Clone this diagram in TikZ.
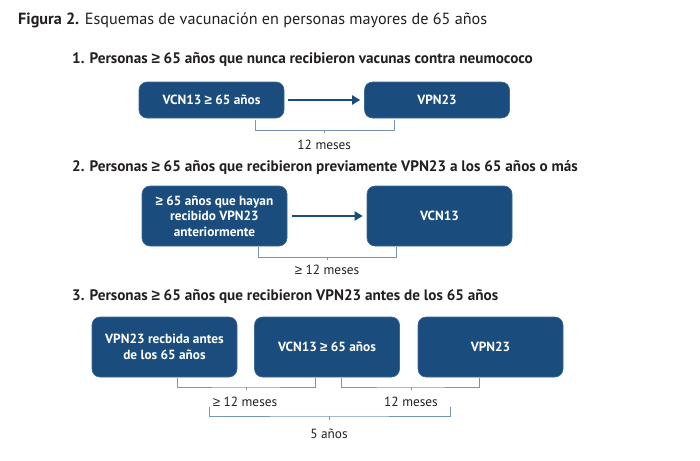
\documentclass[tikz,border=0pt]{standalone}
\usepackage{fontspec}
\setmainfont{PT Sans}
\newfontfamily\geqfont{Liberation Sans}
\newcommand\gq{{\geqfont ≥}}
\usetikzlibrary{calc,arrows.meta}
\definecolor{boxblue}{RGB}{27,76,126}
\definecolor{boxedge}{RGB}{60,105,150}
\definecolor{brkcol}{RGB}{120,150,180}
\definecolor{txt}{RGB}{35,31,32}
\tikzset{
  vbox/.style={draw=boxedge, line width=0.6pt, fill=boxblue, rounded corners=8pt, text=white,
    font=\bfseries\fontsize{13.3}{15.5}\selectfont, align=center, minimum width=145pt, inner sep=2pt},
  brk/.style={draw=brkcol, line width=0.8pt},
  flow/.style={draw=boxblue, line width=2.2pt, -{Triangle[length=8pt,width=9pt]}},
  lbl/.style={text=txt, font=\fontsize{13.3}{15}\selectfont, inner sep=0pt},
  head/.style={text=txt, font=\bfseries\fontsize{15.2}{18}\selectfont, inner sep=0pt, anchor=west},
}
\begin{document}
\begin{tikzpicture}[x=1pt,y=-1pt]
\useasboundingbox (0,0) rectangle (700,460);
% title
\node[text=txt, font=\fontsize{16.2}{19}\selectfont, inner sep=0pt, anchor=west] (title) at (18,20)
  {\textbf{Figura 2.} Esquemas de vacunación en personas mayores de 65 años};
% section 1
\node[head] (h1) at (72,60) {1. Personas \gq{} 65 años que nunca recibieron vacunas contra neumococo};
\node[vbox, minimum height=36pt] (a1) at (211.5,100) {VCN13 \gq{} 65 años};
\node[vbox, minimum height=36pt] (b1) at (437,100) {VPN23};
\draw[flow] ($(a1.east)+(4,0)$) -- ($(b1.west)+(-4,0)$);
\coordinate (m1) at ($(a1.south east)!0.5!(b1.south west)+(0,12)$);
\draw[brk] ($(a1.south east)+(-29,2)$) |- (m1) -| ($(b1.south west)+(30,2)$);
\draw[brk] (m1) -- ++(0,3);
\node[lbl] (l1) at ($(m1)+(0,15)$) {12 meses};
% section 2
\node[head] (h2) at (72,168) {2. Personas \gq{} 65 años que recibieron previamente VPN23 a los 65 años o más};
\node[vbox, minimum height=60pt] (a2) at (214.5,216) {\gq{} 65 años que hayan\\ recibido VPN23\\ anteriormente};
\node[vbox, minimum height=60pt] (b2) at (439.5,216) {VCN13};
\draw[flow] ($(a2.east)+(5,0)$) -- ($(b2.west)+(-4,0)$);
\coordinate (m2) at ($(a2.south east)!0.5!(b2.south west)+(0,11)$);
\draw[brk] ($(a2.south east)+(-29,1)$) |- (m2) -| ($(b2.south west)+(30,1)$);
\draw[brk] (m2) -- ++(0,3);
\node[lbl] (l2) at ($(m2)+(0,13)$) {\gq{} 12 meses};
% section 3
\node[head] (h3) at (72,297) {3. Personas \gq{} 65 años que recibieron VPN23 antes de los 65 años};
\node[vbox, minimum height=60pt] (a3) at (164.5,347) {VPN23 recbida antes\\ de los 65 años};
\node[vbox, minimum height=60pt] (b3) at (327,347) {VCN13 \gq{} 65 años};
\node[vbox, minimum height=60pt] (c3) at (490.5,347) {VPN23};
\coordinate (m3) at (246,387);
\draw[brk] ($(a3.south east)+(-60,1)$) |- (m3) -| ($(b3.south west)+(61,1)$);
\draw[brk] (m3) -- ++(0,3);
\node[lbl] (l3) at (245,402) {\gq{} 12 meses};
\coordinate (m4) at (411,387);
\draw[brk] ($(b3.south east)+(-58,1)$) |- (m4) -| ($(c3.south west)+(62,1)$);
\draw[brk] (m4) -- ++(0,3);
\node[lbl] (l4) at (411,402) {12 meses};
\coordinate (m5) at (329,416);
\draw[brk] ($(m5)+(-120,-9)$) |- (m5) -| ($(m5)+(121,-9)$);
\draw[brk] (m5) -- ++(0,4);
\node[lbl] (l5) at (329,434) {5 años};
\end{tikzpicture}
\end{document}
